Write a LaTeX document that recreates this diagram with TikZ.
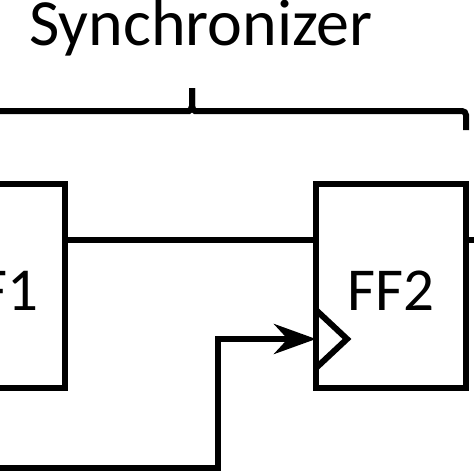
\documentclass[tikz,border=0pt]{standalone}
\usepackage{fontspec}
\setmainfont{Carlito}
\usetikzlibrary{arrows.meta}

\begin{document}
\begin{tikzpicture}[x=1pt, y=-1pt, line width=6pt,
	ff/.style={draw, rectangle, minimum height=204pt, inner sep=0pt, outer sep=0pt, font=\fontsize{61}{72}\selectfont, text height=48pt, text depth=0pt}]
			\useasboundingbox (0, 0) rectangle (474, 474);
			\clip (0, 0) rectangle (474, 474);
			\node[ff, minimum width=140pt] (FF1)at(-5, 286) {FF1};
			\node[ff, minimum width=150pt] (FF2)at(391, 286) {FF2};
			\node[font=\fontsize{66}{78}\selectfont, anchor=base] (T)at(201, 45) {Synchronizer};
			% brace
			\coordinate (BL)at(-75, 130);
			\coordinate (BR)at(466, 130);
			\coordinate (TIP)at(192, 88);
			\draw[rounded corners=4pt] (BL) |- (185, 111) .. controls (190, 111) and (192, 108) .. (192, 102) -- (TIP);
			\draw[rounded corners=4pt] (TIP) -- (192, 102) .. controls (192, 108) and (194, 111) .. (199, 111) -| (BR);
			% data and clock
			\draw ([yshift=46pt]FF1.east) -- ([yshift=46pt]FF2.west);
			\draw ([yshift=46pt]FF2.east) -- ++(20, 0);
			\draw ([yshift=-24pt]FF2.west) -- ([xshift=31pt, yshift=-53pt]FF2.west) -- ([yshift=-82pt]FF2.west);
			\coordinate (CLK)at(-20, 468);
			\coordinate (CK)at([yshift=-53pt]FF2.west);
			\draw[-{Stealth[length=42pt, width=30pt]}] (CLK) -- ++(238, 0) |- (CK);
\end{tikzpicture}
\end{document}
